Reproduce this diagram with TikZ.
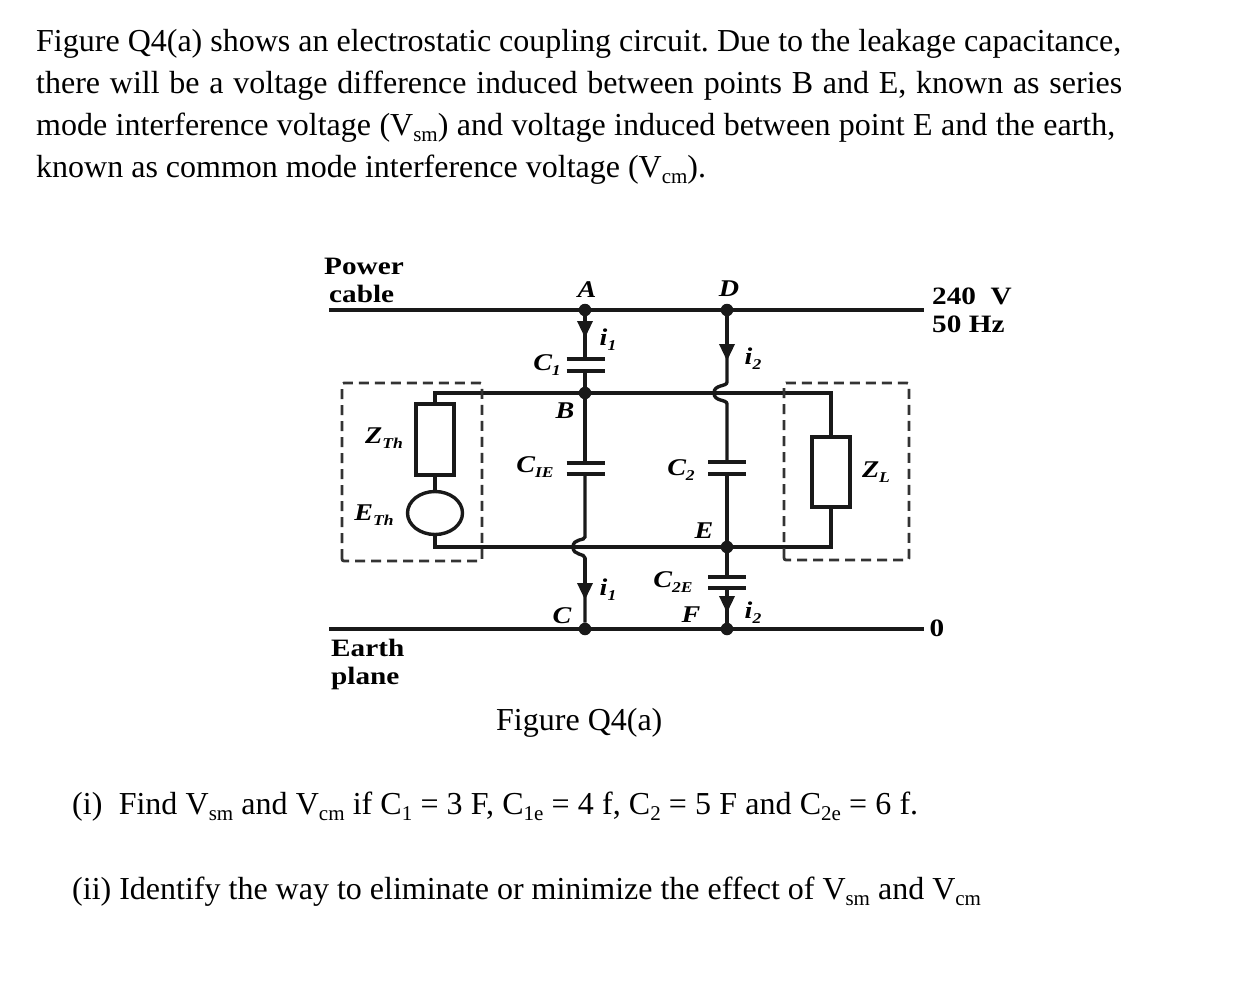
\documentclass[tikz,border=0pt]{standalone}
\usepackage{fontspec}
\setmainfont{Liberation Serif}
\newfontfamily\stretchfont[FakeStretch=1.17]{Liberation Serif}
\frenchspacing
\usetikzlibrary{arrows.meta,shapes.geometric}
\newcommand{\sbs}[1]{\raisebox{-0.2em}{\fontsize{21}{21}\selectfont #1}}
\newcommand{\lsub}[1]{\raisebox{-0.22em}{\fontsize{15}{15}\selectfont #1}}
\tikzset{
 para/.style={anchor=base west,inner sep=0pt,font=\fontsize{32}{32}\selectfont},
 lbl/.style={inner sep=0pt,font=\fontsize{25}{25}\selectfont\stretchfont\bfseries,anchor=base west},
 ital/.style={inner sep=0pt,font=\fontsize{24}{24}\selectfont\stretchfont\bfseries\itshape},
 wire/.style={line width=3.4pt,black!90},
 plate/.style={line width=3.6pt,black!90},
 box/.style={draw=black!90,line width=3.2pt,rectangle,inner sep=0pt,fill=none},
 dot/.style={circle,fill=black!90,inner sep=0pt,minimum size=12.5pt},
 dashline/.style={line width=2.8pt,black!80,dash pattern=on 10pt off 6pt},
 tipw/.style={line width=3.4pt,black!90,-{Triangle[length=17pt,width=15pt]}}
}
\begin{document}
\begin{tikzpicture}[x=1pt,y=-1pt]
\useasboundingbox (0,0) rectangle (1242,996);
% text
\node[para] (t1) at (36,51) {\hbox to 1085pt{Figure Q4(a) shows an electrostatic coupling circuit. Due to the leakage capacitance,}};
\node[para] (t2) at (36,93) {\hbox to 1086pt{there will be a voltage difference induced between points B and E, known as series}};
\node[para] (t3) at (36,135) {\hbox to 1079pt{mode interference voltage (V\sbs{sm}) and voltage induced between point E and the earth,}};
\node[para] (t4) at (36,177) {known as common mode interference voltage (V\sbs{cm}).};
\node[para] (cap) at (496,730) {Figure Q4(a)};
\node[para] (q1) at (72,814) {\hbox to 846pt{(i) \ Find V\sbs{sm} and V\sbs{cm} if C\sbs{1} = 3 F, C\sbs{1e} = 4 f, C\sbs{2} = 5 F and C\sbs{2e} = 6 f.}};
\node[para] (q2) at (72,899) {(ii) Identify the way to eliminate or minimize the effect of V\sbs{sm} and V\sbs{cm}};
% junctions
\node[dot] (A) at (585,310) {};
\node[dot] (D) at (727,310) {};
\node[dot] (B) at (585,393) {};
\node[dot] (E) at (727,547) {};
\node[dot] (C) at (585,629) {};
\node[dot] (F) at (727,629) {};
% line ends
\coordinate (pL) at (329,310); \coordinate (pR) at (924,310);
\coordinate (eL) at (329,629); \coordinate (eR) at (924,629);
% components
\node[box,minimum width=38pt,minimum height=71pt] (zth) at (435,439.5) {};
\node[draw=black!90,line width=3.4pt,ellipse,inner sep=0pt,minimum width=55pt,minimum height=43pt] (eth) at (435,513) {};
\node[box,minimum width=38pt,minimum height=70pt] (zl) at (831,472) {};
% rails
\draw[wire] (pL) -- (A) -- (D) -- (pR);
\draw[wire] (eL) -- (C) -- (F) -- (eR);
\draw[wire] (zth.north) |- (B) -- (713,393) -- (831,393) -- (zl.north);
\draw[wire] (zth.south) -- (eth.north);
\draw[wire] (eth.south) |- (E) -- (831,547) -- (zl.south);
% left branch
\coordinate (a1tip) at (585,338);
\coordinate (c1t) at (585,359); \coordinate (c1b) at (585,371);
\coordinate (cieT) at (585,463); \coordinate (cieB) at (585,474);
\coordinate (j1a) at (585,537); \coordinate (j1b) at (585,558);
\coordinate (a2tip) at (585,600);
\draw[wire] (A) -- (c1t);
\draw[tipw] (A) -- (a1tip);
\draw[plate] (566.5,359) -- (604.5,359);
\draw[plate] (566.5,371) -- (604.5,371);
\draw[wire] (c1b) -- (B) -- (cieT);
\draw[plate] (566.5,463) -- (604.5,463);
\draw[plate] (566.5,474) -- (604.5,474);
\draw[wire] (cieB) -- (j1a) .. controls (585,541) and (573,538) .. (573,547) .. controls (573,556) and (585,553) .. (j1b) -- (C);
\draw[tipw] (j1b) -- (a2tip);
% right branch
\coordinate (a3tip) at (727,361);
\coordinate (j2a) at (727,382); \coordinate (j2b) at (727,404);
\coordinate (c2t) at (727,462); \coordinate (c2b) at (727,474);
\coordinate (c3t) at (727,577); \coordinate (c3b) at (727,588);
\coordinate (a4tip) at (727,613);
\draw[wire] (D) -- (j2a) .. controls (727,387) and (714,384) .. (714,393) .. controls (714,402) and (727,399) .. (j2b) -- (c2t);
\draw[tipw] (D) -- (a3tip);
\draw[plate] (708,462) -- (746,462);
\draw[plate] (708,474) -- (746,474);
\draw[wire] (c2b) -- (E) -- (c3t);
\draw[plate] (708,577) -- (746,577);
\draw[plate] (708,588) -- (746,588);
\draw[wire] (c3b) -- (F);
\draw[tipw] (c3b) -- (a4tip);
% dashed boxes
\draw[dashline,rounded corners=2pt] (342,561) -- (342,383) -- (482,383) -- (482,561) -- cycle;
\draw[dashline,rounded corners=2pt] (784,560) -- (784,383) -- (909,383) -- (909,560) -- cycle;
% labels
\node[lbl] (l1) at (324,274) {Power};
\node[lbl] (l2) at (329,302) {cable};
\node[lbl] (l3) at (932,304) {240\ \ V};
\node[lbl] (l4) at (932,332) {50 Hz};
\node[lbl] (l5) at (331,656) {Earth};
\node[lbl] (l6) at (331,684) {plane};
\node[lbl,anchor=center] (l0) at (937,628) {0};
\node[ital] (nA) at (587,290) {A};
\node[ital] (nD) at (729,289) {D};
\node[ital] (nB) at (565,411) {B};
\node[ital] (nE) at (704,531) {E};
\node[ital] (nC) at (562,616) {C};
\node[ital] (nF) at (691,615) {F};
\node[ital] (ni1) at (608,340) {i\lsub{1}};
\node[ital] (ni2) at (753,359) {i\lsub{2}};
\node[ital] (ni3) at (608,590) {i\lsub{1}};
\node[ital] (ni4) at (753,613) {i\lsub{2}};
\node[ital] (nC1) at (547,365) {C\lsub{1}};
\node[ital] (nCIE) at (535,467) {C\lsub{IE}};
\node[ital] (nC2) at (681,470) {C\lsub{2}};
\node[ital] (nC2E) at (673,582) {C\lsub{2E}};
\node[ital] (nZT) at (384,438) {Z\lsub{Th}};
\node[ital] (nET) at (374,515) {E\lsub{Th}};
\node[ital] (nZL) at (876,472) {Z\lsub{L}};
\end{tikzpicture}
\end{document}
